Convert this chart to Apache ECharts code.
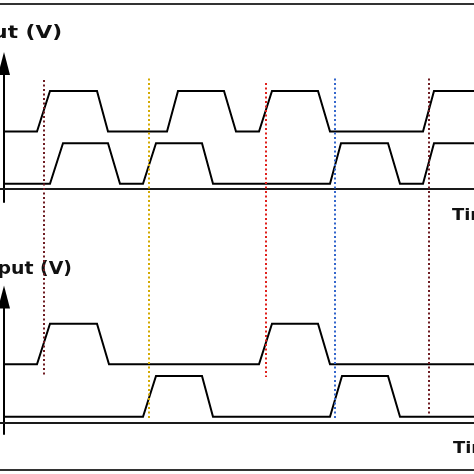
<!DOCTYPE html>
<html>
<head>
<meta charset="utf-8">
<script src="https://cdn.jsdelivr.net/npm/echarts@6/dist/echarts.min.js"></script>
<style>
html,body{margin:0;padding:0;background:#fff;}
#chart{width:474px;height:474px;}
</style>
</head>
<body>
<div id="chart"></div>
<script>
// ---- data (time units, voltage units) ----
const inputATime = [1,33,46,93,104,163,174,220,232,255,268,314,326,419,430,470];
const inputAVolt = [1.42,1.42,2.42,2.42,1.42,1.42,2.42,2.42,1.42,1.42,2.42,2.42,1.42,1.42,2.42,2.42];
const inputBTime = [1,46,59,104,116,139,152,198,209,326,337,384,396,419,430,470];
const inputBVolt = [0.13,0.13,1.13,1.13,0.13,0.13,1.13,1.13,0.13,0.13,1.13,1.13,0.13,0.13,1.13,1.13];
const outputCTime = [1,33,46,93,105,255,268,314,326,470];
const outputCVolt = [1.44,1.44,2.44,2.44,1.44,1.44,2.44,2.44,1.44,1.44];
const outputDTime = [1,139,152,198,209,326,338,384,396,470];
const outputDVolt = [0.14,0.14,1.15,1.15,0.14,0.14,1.15,1.15,0.14,0.14];
// vertical dotted markers (time, top/bottom extent in input-panel volts, colour)
const markerTime = [40, 145, 262, 331, 425];
const markerTop = [2.69, 2.73, 2.62, 2.73, 2.73];
const markerBottom = [-4.64, -5.67, -4.64, -5.67, -5.58];
const markerColor = ['#6e1c22', '#d4aa00', '#e0201c', '#3366cc', '#6e1c22'];
const labels = {input: 'Input (V)', output: 'Output (V)', time: 'Time'};

const zip = (t, v) => t.map((x, i) => [x, v[i]]);

function xAx(gi) {
  return {type: 'value', gridIndex: gi, min: -4, max: 470,
    axisLine: {show: true, onZero: true, lineStyle: {color: '#1a1a1a', width: 2}},
    axisTick: {show: false}, axisLabel: {show: false}, splitLine: {show: false}};
}
function yAx(gi, min, max) {
  return {type: 'value', gridIndex: gi, min: min, max: max,
    axisLine: {show: true, onZero: true, symbol: ['none', 'triangle'], symbolSize: [12, 23],
      lineStyle: {color: '#000', width: 2}},
    axisTick: {show: false}, axisLabel: {show: false}, splitLine: {show: false}};
}
function wave(gi, data) {
  return {type: 'line', xAxisIndex: gi, yAxisIndex: gi, data: data, showSymbol: false,
    silent: true, animation: false, z: 3,
    lineStyle: {color: '#000', width: 2, join: 'miter'}};
}
const series = [
  wave(0, zip(inputATime, inputAVolt)),
  wave(0, zip(inputBTime, inputBVolt)),
  wave(1, zip(outputCTime, outputCVolt)),
  wave(1, zip(outputDTime, outputDVolt))
];
markerTime.forEach((t, i) => {
  series.push({type: 'line', xAxisIndex: 0, yAxisIndex: 0, clip: false,
    data: [[t, markerTop[i]], [t, markerBottom[i]]], showSymbol: false,
    silent: true, animation: false, z: 5,
    lineStyle: {color: markerColor[i], width: 2, type: [2, 2.5], cap: 'butt'}});
});

const font = 'bold 18px "DejaVu Sans"';
const font2 = 'bold 16px "DejaVu Sans"';
function label(text, x, y, f, align, sx) {
  return {type: 'text', x: x, y: y, scaleX: sx, scaleY: 1,
    style: {text: text, x: 0, y: 0, font: f, fill: '#111', textAlign: align, textVerticalAlign: 'middle'}};
}
const chart = echarts.init(document.getElementById('chart'), null, {renderer: 'canvas'});
chart.setOption({
  backgroundColor: '#fff',
  animation: false,
  grid: [
    {left: 0, right: 0, top: 63.5, height: 138.5},
    {left: 0, right: 0, top: 297, height: 137}
  ],
  xAxis: [xAx(0), xAx(1)],
  yAxis: [yAx(0, -0.32, 3.1), yAx(1, -0.284, 3.099)],
  series: series,
  graphic: [
    {type: 'line', shape: {x1: 0, y1: 4, x2: 474, y2: 4}, style: {stroke: '#333', lineWidth: 2}},
    {type: 'line', shape: {x1: 0, y1: 470, x2: 474, y2: 470}, style: {stroke: '#333', lineWidth: 2}},
    label(labels.input, 62, 33.5, font, 'right', 1.2),
    label(labels.output, 72, 269, font, 'right', 1.05),
    label(labels.time, 452, 216, font2, 'left', 1.12),
    label(labels.time, 453, 448.5, font2, 'left', 1.12)
  ]
});
</script>
</body>
</html>
